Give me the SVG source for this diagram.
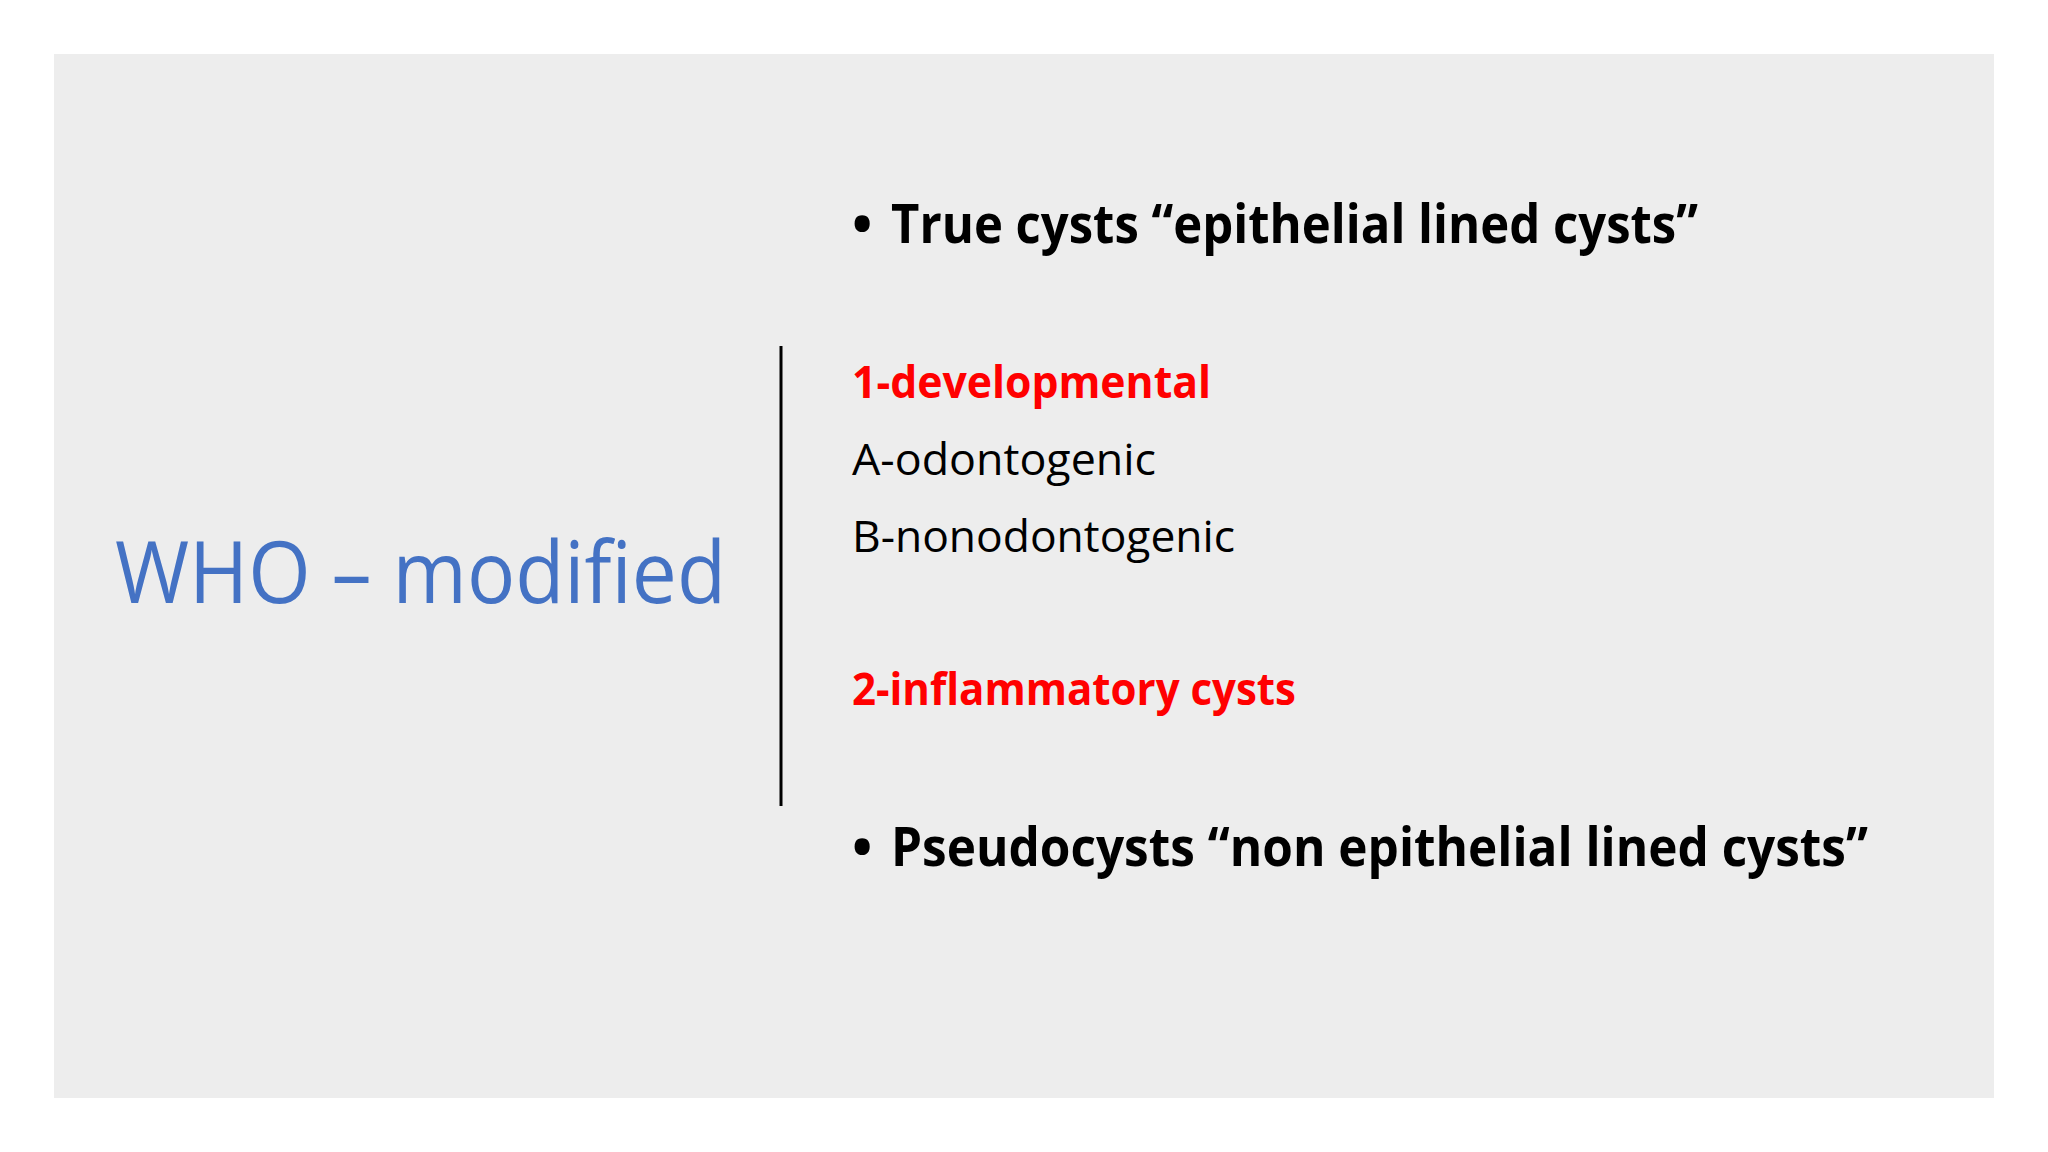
<svg xmlns="http://www.w3.org/2000/svg" width="2048" height="1152" viewBox="0 0 2048 1152">
<style>
text{font-family:"Open Sans","Liberation Sans",sans-serif}
.b{font-weight:bold;fill:#000;font-size:54px}
.r{font-weight:bold;fill:#ff0000;font-size:44px}
.n{fill:#000;font-size:44px}
</style>
<rect width="2048" height="1152" fill="#fff"/>
<rect x="54" y="54" width="1940" height="1044" fill="#ededed"/>
<g id="title"><text x="115" y="603" font-size="86" fill="#4472c4" textLength="611" lengthAdjust="spacingAndGlyphs">WHO – modified</text></g>
<g id="divider"><line x1="781" y1="346" x2="781" y2="806" stroke="#000" stroke-width="3"/></g>
<g id="true">
<text class="b" x="852" y="243">•</text>
<text class="b" x="891" y="243" textLength="807" lengthAdjust="spacingAndGlyphs">True cysts “epithelial lined cysts”</text>
</g>
<g id="dev"><text class="r" x="852" y="398" textLength="359" lengthAdjust="spacingAndGlyphs">1-developmental</text></g>
<g id="a"><text class="n" x="852" y="475" textLength="304" lengthAdjust="spacingAndGlyphs">A-odontogenic</text></g>
<g id="bn"><text class="n" x="852" y="552" textLength="383" lengthAdjust="spacingAndGlyphs">B-nonodontogenic</text></g>
<g id="infl"><text class="r" x="852" y="705" textLength="444" lengthAdjust="spacingAndGlyphs">2-inflammatory cysts</text></g>
<g id="pseudo">
<text class="b" x="852" y="866">•</text>
<text class="b" x="891" y="866" textLength="977" lengthAdjust="spacingAndGlyphs">Pseudocysts “non epithelial lined cysts”</text>
</g>
</svg>
